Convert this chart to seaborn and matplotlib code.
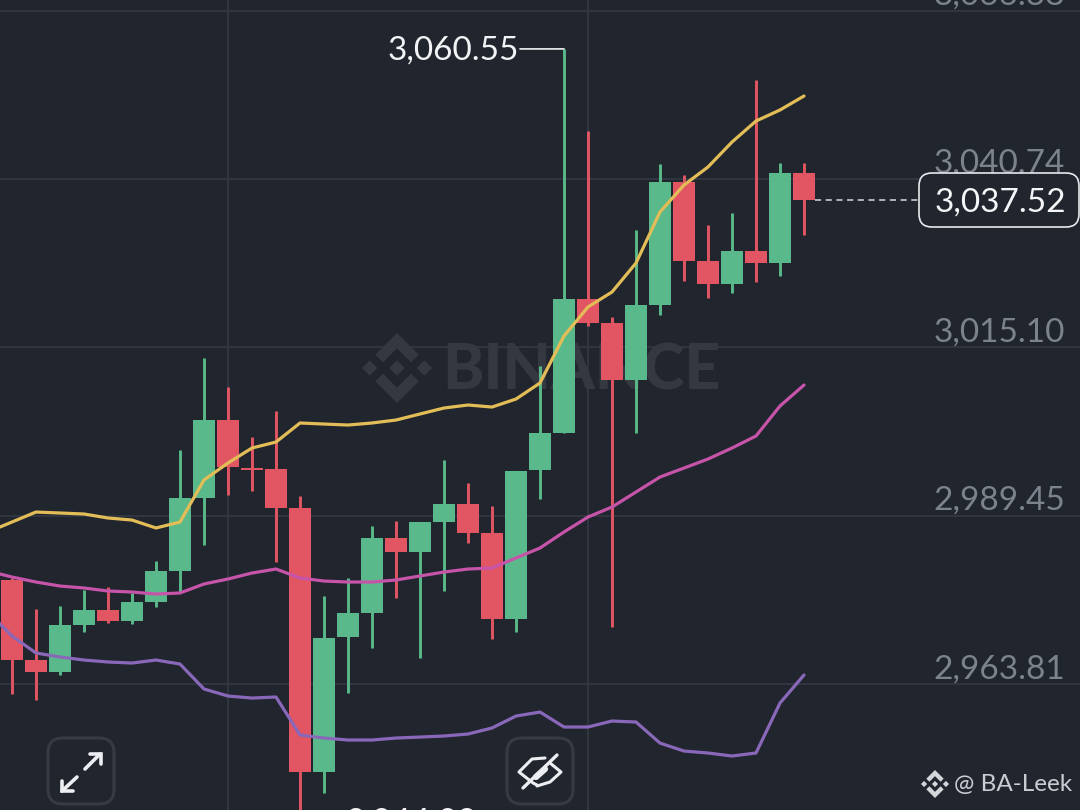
import matplotlib
matplotlib.use("Agg")
import matplotlib.pyplot as plt
import seaborn as sns
import pandas as pd
from matplotlib.patches import FancyBboxPatch, Polygon
from matplotlib.transforms import Affine2D

opens = [2979.67, 2967.48, 2965.65, 2972.81, 2975.10, 2973.42, 2976.31, 2981.04, 2992.15, 3004.03, 2996.72,
         2996.57, 2990.63, 2950.42, 2970.98, 2974.64, 2986.06, 2983.93, 2988.50, 2991.24, 2986.82, 2973.72,
         2996.42, 3002.05, 3022.46, 3018.81, 3010.13, 3021.55, 3040.28, 3028.25, 3024.75, 3029.77, 3027.94, 3041.65]
closes = [2967.48, 2965.65, 2972.81, 2975.10, 2973.42, 2976.31, 2981.04, 2992.15, 3004.03, 2996.88, 2996.42,
          2990.63, 2950.42, 2970.83, 2974.64, 2986.06, 2983.93, 2988.50, 2991.24, 2986.82, 2973.72, 2996.27,
          3002.05, 3022.46, 3018.81, 3010.13, 3021.55, 3040.28, 3028.25, 3024.75, 3029.77, 3027.94, 3041.65, 3037.52]
highs = [2980.00, 2975.25, 2975.71, 2978.14, 2978.60, 2977.69, 2982.56, 2999.47, 3013.48, 3009.06, 3001.44,
         3005.40, 2992.46, 2977.23, 2979.97, 2987.89, 2988.65, 2988.50, 2997.94, 2994.44, 2990.94, 2996.27,
         3012.26, 3060.55, 3048.05, 3019.72, 3032.97, 3043.02, 3041.35, 3033.73, 3035.56, 3055.82, 3043.17, 3043.17]
lows = [2962.30, 2961.39, 2965.20, 2971.75, 2973.12, 2972.96, 2975.55, 2977.84, 2985.00, 2992.61, 2993.22,
        2982.41, 2944.09, 2947.23, 2962.46, 2969.31, 2976.92, 2967.79, 2977.99, 2985.30, 2970.68, 2971.75,
        2992.00, 3002.05, 3018.35, 2972.51, 3002.05, 3020.03, 3025.20, 3022.61, 3023.38, 3025.05, 3025.97, 3032.21]

# moving averages start one candle left of the visible window
ma_yellow = [2986.98, 2988.50, 2990.02, 2989.87, 2989.72, 2989.11, 2988.80, 2987.59, 2988.50, 2994.90, 2997.49,
             2999.77, 3000.68, 3003.58, 3003.42, 3003.27, 3003.58, 3004.03, 3004.95, 3005.86, 3006.32, 3006.01,
             3007.23, 3009.67, 3016.83, 3021.25, 3023.53, 3027.94, 3035.71, 3039.82, 3042.57, 3046.37, 3049.57,
             3051.25, 3053.38]
ma_magenta = [2981.04, 2980.12, 2979.36, 2978.75, 2978.45, 2977.99, 2977.84, 2977.53, 2977.69, 2979.06, 2979.82,
              2980.73, 2981.34, 2979.97, 2979.51, 2979.36, 2979.36, 2979.67, 2980.28, 2980.88, 2981.34, 2981.49,
              2983.02, 2984.54, 2986.98, 2989.26, 2990.78, 2993.07, 2995.35, 2996.72, 2998.09, 2999.77, 3001.60,
              3006.17, 3009.36]
ma_purple = [2974.79, 2971.14, 2968.55, 2967.94, 2967.48, 2967.18, 2967.02, 2967.48, 2966.87, 2963.07, 2962.00,
             2961.69, 2961.85, 2956.06, 2955.60, 2955.30, 2955.30, 2955.60, 2955.75, 2955.91, 2956.21, 2957.13,
             2958.95, 2959.56, 2957.28, 2957.28, 2958.19, 2958.04, 2954.83, 2953.62, 2953.32, 2952.86, 2953.32,
             2960.93, 2965.20]

price_ticks = [3066.38, 3040.74, 3015.10, 2989.45, 2963.81]
price_labels = ["3,066.38", "3,040.74", "3,015.10", "2,989.45", "2,963.81"]
time_ticks = [9, 24]
max_idx, max_label = 23, "3,060.55"
min_idx, min_label = 12, "2,944.09"
last_price, last_label = 3037.52, "3,037.52"

BG = "#21252e"
GRID = "#323742"
GREEN = "#5ab98a"
RED = "#e25563"
WM = "#343841"
AXTXT = "#7d838d"
FS = 24

sns.set_theme(style="dark")
plt.rcParams["font.family"] = ["Lato", "DejaVu Sans"]

fig = plt.figure(figsize=(10.8, 8.1), dpi=100, facecolor=BG)
ax = fig.add_axes([0, 0, 1, 1], facecolor=BG)
ax.set_xlim(-0.5, 44.5)
ax.set_ylim(2944.64, 3068.0)
ax.set_xticks([])
ax.set_yticks([])
for s in ax.spines.values():
    s.set_visible(False)

px = Affine2D().scale(1, -1).translate(0, 810)  # reference pixel space, y down


def logo(cx, cy, r, color, zorder):
    """Binance mark: centre, side diamonds, top and bottom chevrons."""
    def add(pts):
        ax.add_patch(Polygon([(cx + a * r, cy + b * r) for a, b in pts], closed=True, fc=color, ec="none",
                             transform=px, zorder=zorder))
    d = 0.22
    add([(0, -d), (d, 0), (0, d), (-d, 0)])
    for sx in (-1, 1):
        add([(sx * 0.78, -d), (sx * (0.78 + d), 0), (sx * 0.78, d), (sx * (0.78 - d), 0)])
    for sy in (-1, 1):
        add([(0, sy * 1.0), (0.62, sy * 0.38), (0.40, sy * 0.16), (0, sy * 0.56),
             (-0.40, sy * 0.16), (-0.62, sy * 0.38)])


# grid
for v in price_ticks:
    ax.axhline(v, color=GRID, lw=1.3, zorder=1)
for t in time_ticks:
    ax.axvline(t, color=GRID, lw=1.3, zorder=1)

# watermark
logo(397, 368, 35, WM, 1.5)
ax.text(581.5, 372, "BINANCE", transform=px, color=WM, fontsize=45, fontweight="black",
        ha="center", va="center", family="Lato", zorder=1.5)

# candles
df = pd.DataFrame({"i": range(len(opens)), "o": opens, "c": closes, "h": highs, "l": lows})
df["color"] = [GREEN if c >= o else RED for o, c in zip(df.o, df.c)]
ax.vlines(df.i, df.l, df.h, colors=df.color, lw=2.1, zorder=3)
ax.bar(df.i, (df.c - df.o).abs().clip(lower=0.3), bottom=df[["o", "c"]].min(axis=1), width=0.88,
       color=df.color, linewidth=0, zorder=3.2)

# moving averages
ma = pd.DataFrame({"i": range(-1, len(ma_yellow) - 1), "MA7": ma_yellow, "MA25": ma_magenta, "MA99": ma_purple})
for col, c in [("MA7", "#e3bd57"), ("MA25", "#c654a9"), ("MA99", "#8a68b9")]:
    sns.lineplot(data=ma, x="i", y=col, ax=ax, color=c, lw=2.3, zorder=4, legend=False,
                 solid_capstyle="round", errorbar=None)
ax.set_xlabel("")
ax.set_ylabel("")
ax.set_xlim(-0.5, 44.5)
ax.set_ylim(2944.64, 3068.0)

# price labels
for v, t in zip(price_ticks, price_labels):
    ax.annotate(t, xy=(1, v), xycoords=ax.get_yaxis_transform(), xytext=(-15, 15), textcoords="offset pixels",
                ha="right", va="center", color=AXTXT, fontsize=FS, zorder=5)

# max / min markers
ax.annotate(max_label, xy=(max_idx, highs[max_idx]), xytext=(-45, -2), textcoords="offset pixels",
            ha="right", va="center", color="#f2f3f5", fontsize=FS, zorder=6)
ax.annotate("", xy=(max_idx, highs[max_idx]), xytext=(-44, 0), textcoords="offset pixels", zorder=6,
            arrowprops=dict(arrowstyle="-", color="#f2f3f5", lw=1.2, shrinkA=0, shrinkB=0))
ax.text(411, 823, min_label, transform=px, ha="center", va="center", color="#f2f3f5", fontsize=FS, zorder=6,
        clip_on=False)

# last price
ax.plot([33.45, 37.9], [last_price, last_price], color="#d8dade", lw=1.1, ls=(0, (4, 3)), zorder=5)
ax.add_patch(FancyBboxPatch((919, 173), 160, 54, boxstyle="round,pad=0,rounding_size=13", transform=px,
                            fc=BG, ec="#e8e9ec", lw=1.2, zorder=6))
ax.text(1000, 203, last_label, transform=px, ha="center", va="center", color="#f4f5f7", fontsize=FS, zorder=7)

# buttons
for x0 in (48, 507):
    ax.add_patch(FancyBboxPatch((x0, 738), 66, 66, boxstyle="round,pad=0,rounding_size=15", transform=px,
                                fc="none", ec="#363a45", lw=2.2, zorder=5))
w = "#eceef1"
for xs, ys in [([85, 100], [769, 754]), ([90, 101, 101], [754, 754, 764]),
               ([77, 62], [777, 791]), ([62, 62, 73], [781, 791, 791])]:
    ax.plot(xs, ys, color=w, lw=2.6, transform=px, zorder=6, solid_capstyle="round", solid_joinstyle="miter")
for xs, ys in [([545, 532, 519, 533, 537], [758, 759, 772, 783, 785]),
               ([550, 561, 550, 537], [763, 772, 782, 786])]:
    ax.plot(xs, ys, color=w, lw=2.2, transform=px, zorder=6, solid_capstyle="round")
ax.plot([523, 557], [788, 755], color=w, lw=2.4, transform=px, zorder=6, solid_capstyle="round")
ax.plot([536, 545], [777, 769], color=w, lw=4.5, transform=px, zorder=6, solid_capstyle="round")

# credit
logo(935, 784, 14, "#d4d7da", 7)
ax.text(1072, 785, "@ BA-Leek", transform=px, ha="right", va="center", color="#c9cdd2", fontsize=17.5, zorder=7)

fig.savefig("out.png", dpi=100, facecolor=BG)
